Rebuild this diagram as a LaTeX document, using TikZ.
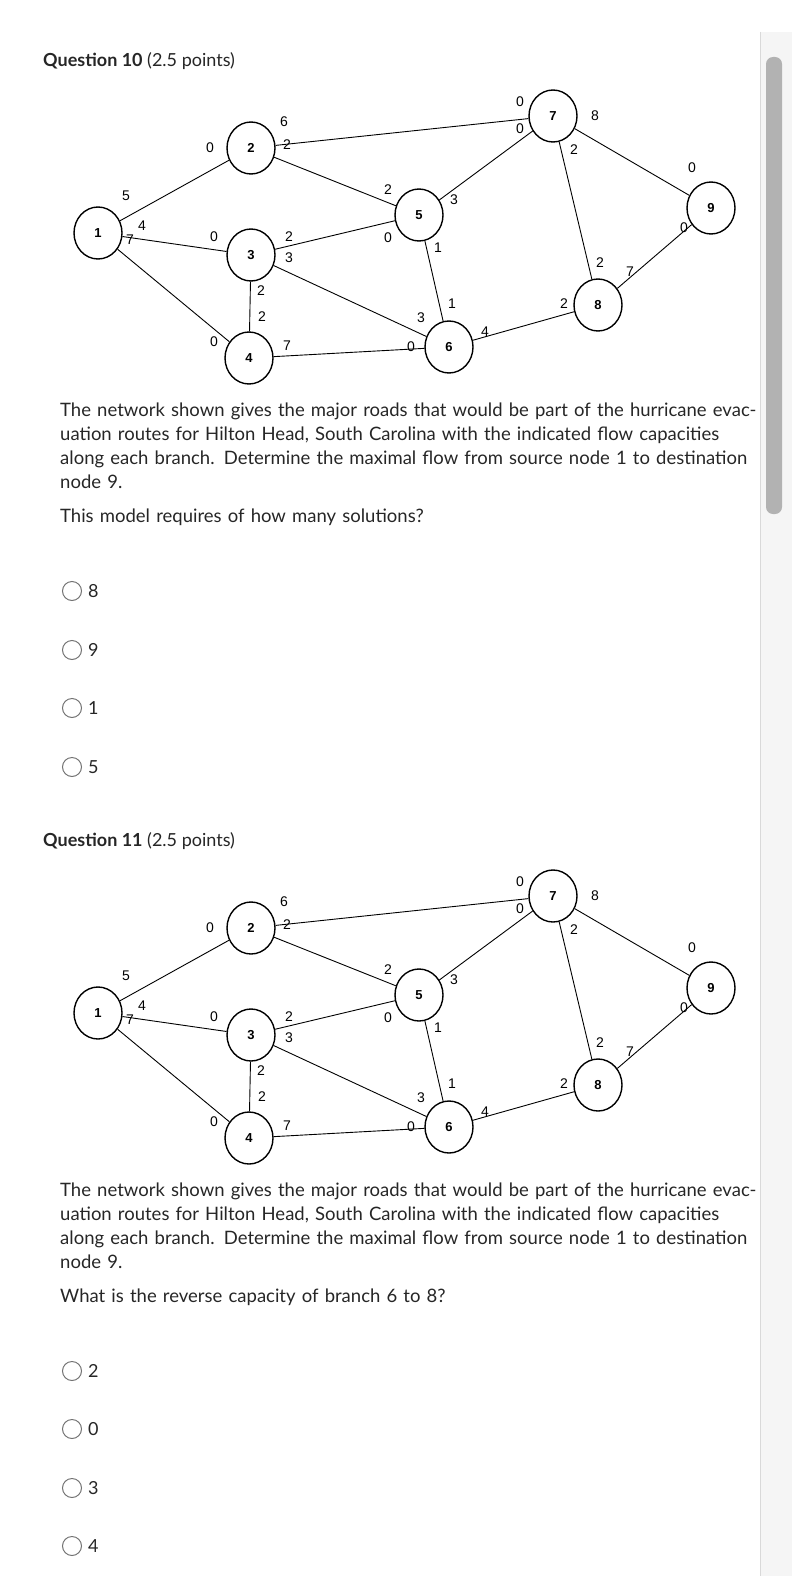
\documentclass[tikz,border=0pt]{standalone}
\usepackage{fontspec}
\usetikzlibrary{shapes.geometric}
\setmainfont{Lato}
\newfontfamily\nf{Liberation Sans}
\begin{document}
\begin{tikzpicture}[x=1pt,y=-1pt,
  nd/.style={draw,line width=1.4pt,ellipse,minimum width=48pt,minimum height=52pt,inner sep=0pt,font=\nf\fontsize{13}{13}\selectfont\bfseries,fill=white},
  ed/.style={line width=0.9pt},
  lb/.style={font=\nf\fontsize{14}{14}\selectfont,inner sep=0pt},
  qt/.style={anchor=west,inner sep=0pt,font=\fontsize{18}{22}\selectfont,text=black!85},
  bd/.style={anchor=north west,inner sep=0pt,align=left,text width=700pt,font=\fontsize{18.5}{24}\selectfont,text=black!85},
  rad/.style={draw=black!55,line width=1pt,circle,minimum size=19pt,inner sep=0pt}]
\useasboundingbox (0,0) rectangle (794,1576);
\fill[black!4] (760,32) rectangle (792,1576);
\draw[black!15] (760,32) -- (760,1576);
\fill[black!30,rounded corners=7pt] (766,57) rectangle (782,514);
\foreach \o/\s in {0/a,780/b}{
\begin{scope}[yshift=-\o pt]
\node[nd] (\s1) at (98,233) {1};
\node[nd] (\s2) at (251,148) {2};
\node[nd] (\s3) at (251,255) {3};
\node[nd] (\s4) at (249,358) {4};
\node[nd] (\s5) at (419,215) {5};
\node[nd] (\s6) at (449,347) {6};
\node[nd] (\s7) at (553,116) {7};
\node[nd] (\s8) at (598,305) {8};
\node[nd] (\s9) at (711,208) {9};
\foreach \u/\v in {1/2,1/3,1/4,2/7,2/5,3/5,3/6,3/4,4/6,5/7,5/6,6/8,7/8,7/9,8/9}
  \draw[ed] (\s\u) -- (\s\v);
\foreach \x/\y/\t in {284/122/6,287/145/2,210/148/0,126/196/5,142/226/4,130/240/7,
  214/237/0,289/237/2,289/258/3,261/291/2,262/317/2,214/342/0,287/346/7,
  388/190/2,388/238/0,454/200/3,438/248/1,421/318/3,452/304/1,411/347/0,485/332/4,
  520/102/0,520/129/0,595/116/8,574/150/2,600/263/2,630/272/7,564/304/2,692/168/0,684/228/0}
  \node[lb] (\s lx\x y\y) at (\x,\y) {\t};
\end{scope}}
\node[qt] (q10) at (43,61) {\textbf{Question 10} (2.5 points)};
\node[bd] (t10) at (60,403) {The network shown gives the major roads that would be part of the hurricane evacuation routes for Hilton Head, South Carolina with the indicated flow capacities along each branch. Determine the maximal flow from source node 1 to destination node 9.\\[10pt] This model requires of how many solutions?};
\foreach \y/\t [count=\i] in {591/8,650/9,708/1,767/5}{
  \node[rad] (r\i) at (72,\y) {};
  \node[qt] (rt\i) at (88,\y) {\t};}
\node[qt] (q11) at (43,841) {\textbf{Question 11} (2.5 points)};
\node[bd] (t11) at (60,1183) {The network shown gives the major roads that would be part of the hurricane evacuation routes for Hilton Head, South Carolina with the indicated flow capacities along each branch. Determine the maximal flow from source node 1 to destination node 9.\\[10pt] What is the reverse capacity of branch 6 to 8?};
\foreach \y/\t [count=\i] in {1371/2,1429/0,1488/3,1546/4}{
  \node[rad] (s\i) at (72,\y) {};
  \node[qt] (st\i) at (88,\y) {\t};}
\end{tikzpicture}
\end{document}
